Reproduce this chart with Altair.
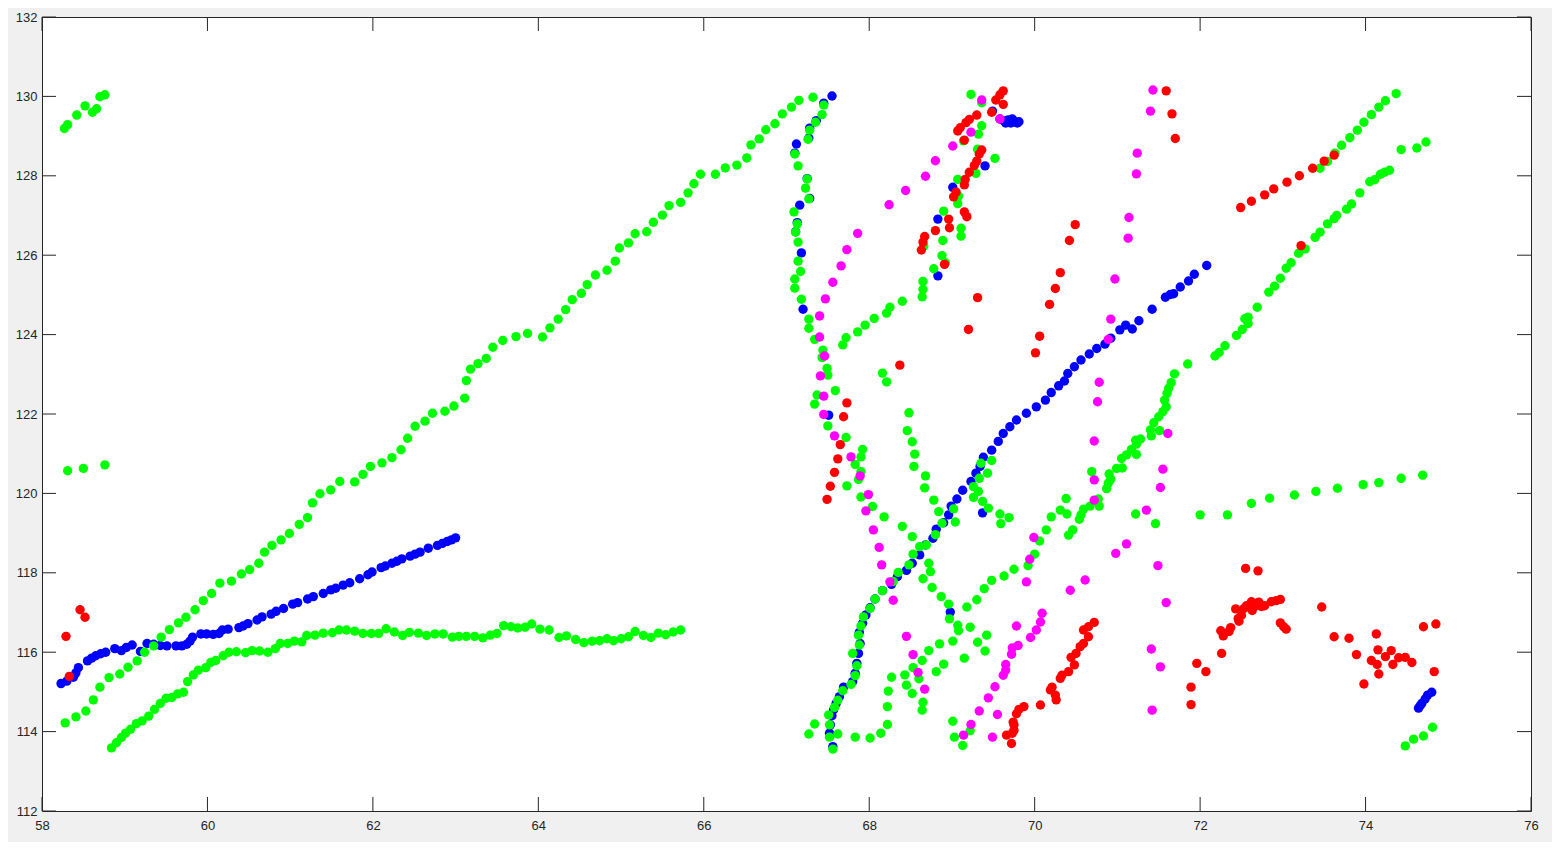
import altair as alt
import pandas as pd

# ---------------- data (x, y) ----------------
x_ticks = [58, 60, 62, 64, 66, 68, 70, 72, 74, 76]
y_ticks = [112, 114, 116, 118, 120, 122, 124, 126, 128, 130, 132]

blue_left = [(58.23,115.21),(58.30,115.27),(58.38,115.37),(58.41,115.48),(58.44,115.61),(58.55,115.78),(58.60,115.85),(58.65,115.91),(58.71,115.96),(58.77,116.00),(58.88,116.09),(58.96,116.04),(59.02,116.12),(59.09,116.18),(59.19,116.02),(59.27,116.22),(59.35,116.20),(59.43,116.17),(59.51,116.16),(59.62,116.16),(59.69,116.16),(59.75,116.20),(59.79,116.28),(59.82,116.38),(59.92,116.46),(59.99,116.46),(60.07,116.45),(60.14,116.47),(60.18,116.56),(60.25,116.58),(60.38,116.62),(60.43,116.66),(60.49,116.72),(60.60,116.81),(60.66,116.89),(60.77,116.96),(60.83,117.03),(60.92,117.10),(61.03,117.21),(61.09,117.25),(61.21,117.34),(61.28,117.40),(61.40,117.48),(61.49,117.57),(61.55,117.61),(61.64,117.69),(61.72,117.75),(61.84,117.85),(61.94,117.95),(61.99,118.02),(62.10,118.13),(62.15,118.17),(62.23,118.24),(62.29,118.29),(62.35,118.35),(62.45,118.42),(62.51,118.47),(62.57,118.52),(62.67,118.62),(62.78,118.69),(62.84,118.74),(62.90,118.79),(62.95,118.83),(63.00,118.88)]
blue_vertical = [(67.55,130.01),(67.45,129.83),(67.36,129.39),(67.28,129.20),(67.27,128.95),(67.12,128.80),(67.10,128.57),(67.25,127.93),(67.28,127.43),(67.16,127.26),(67.13,126.82),(67.11,126.59),(67.18,126.06),(67.20,124.64),(67.51,121.97)]
blue_diagonal = [(67.56,113.62),(67.52,113.96),(67.53,114.17),(67.55,114.40),(67.57,114.55),(67.60,114.71),(67.64,114.88),(67.69,115.12),(67.80,115.26),(67.83,115.47),(67.85,115.72),(67.87,115.97),(67.89,116.22),(67.88,116.50),(67.92,116.73),(67.96,116.94),(68.01,117.12),(68.07,117.34),(68.16,117.55),(68.27,117.71),(68.34,117.90),(68.45,118.06),(68.52,118.24),(68.61,118.45),(68.68,118.70),(68.77,118.87),(68.81,119.10),(68.90,119.26),(68.96,119.46),(68.99,119.68),(69.06,119.86),(69.13,120.08),(69.23,120.30),(69.29,120.51),(69.34,120.68),(69.38,120.91),(69.48,121.09),(69.56,121.31),(69.62,121.51),(69.70,121.68),(69.78,121.85),(69.90,122.02),(70.02,122.18),(70.13,122.35),(70.20,122.54),(70.29,122.71),(70.36,122.83),(70.40,123.02),(70.48,123.19),(70.56,123.36),(70.66,123.51),(70.75,123.65),(70.85,123.76),(70.92,123.91),(71.03,124.12),(71.10,124.24),(71.18,124.14),(71.26,124.35),(71.42,124.64),(71.58,124.94),(71.64,125.01),(71.68,125.03),(71.76,125.20),(71.86,125.35),(71.93,125.52),(72.08,125.74)]
blue_misc = [(69.49,129.63),(69.40,128.25),(69.01,127.71),(68.83,126.91),(68.83,125.48),(69.37,119.51),(68.98,117.01)]
blue_cluster = [(69.58,129.43),(69.63,129.38),(69.68,129.41),(69.71,129.33),(69.75,129.38),(69.79,129.33),(69.81,129.36),(69.65,129.33),(69.73,129.43)]
blue_right = [(74.64,114.59),(74.66,114.65),(74.68,114.71),(74.72,114.82),(74.75,114.92),(74.80,114.99)]

green_topleft = [(58.27,129.19),(58.31,129.29),(58.42,129.53),(58.52,129.76),(58.61,129.60),(58.66,129.69),(58.70,129.99),(58.76,130.04)]
green_mid_left = [(58.31,120.57),(58.50,120.63),(58.76,120.72)]
green_long = [(58.28,114.22),(58.41,114.37),(58.53,114.52),(58.62,114.80),(58.70,115.12),(58.81,115.36),(58.94,115.45),(59.04,115.62),(59.15,115.78),(59.24,116.00),(59.35,116.16),(59.44,116.38),(59.54,116.57),(59.65,116.74),(59.74,116.88),(59.85,117.07),(59.95,117.30),(60.05,117.48),(60.15,117.74),(60.29,117.79),(60.41,117.97),(60.51,118.08),(60.62,118.24),(60.69,118.52),(60.78,118.69),(60.89,118.83),(60.99,118.99),(61.11,119.22),(61.21,119.39),(61.27,119.76),(61.36,119.99),(61.49,120.09),(61.60,120.30),(61.78,120.29),(61.88,120.48),(61.97,120.68),(62.11,120.77),(62.23,120.90),(62.34,121.10),(62.42,121.39),(62.51,121.69),(62.63,121.82),(62.72,122.02),(62.87,122.07),(62.98,122.20),(63.11,122.40),(63.13,122.84),(63.18,123.13),(63.27,123.27),(63.37,123.40),(63.45,123.68),(63.57,123.85),(63.73,123.95),(63.87,124.03),(64.05,123.94),(64.14,124.17),(64.24,124.39),(64.33,124.63),(64.41,124.88),(64.52,125.04),(64.59,125.26),(64.69,125.50),(64.83,125.62),(64.93,125.85),(64.98,126.18),(65.09,126.31),(65.17,126.54),(65.31,126.59),(65.39,126.83),(65.50,127.01),(65.58,127.25),(65.72,127.33),(65.81,127.57),(65.88,127.80),(65.96,128.04),(66.14,128.04),(66.26,128.20),(66.40,128.27),(66.52,128.45),(66.57,128.78),(66.67,128.93),(66.75,129.16),(66.86,129.31),(66.95,129.56),(67.06,129.73),(67.15,129.90),(67.32,129.98)]
green_low = [(58.84,113.59),(58.90,113.72),(58.96,113.85),(59.01,113.96),(59.07,114.06),(59.14,114.20),(59.21,114.27),(59.29,114.39),(59.36,114.56),(59.43,114.71),(59.50,114.84),(59.57,114.86),(59.64,114.95),(59.71,114.99),(59.76,115.26),(59.83,115.43),(59.89,115.55),(59.98,115.61),(60.04,115.74),(60.10,115.79),(60.19,115.91),(60.26,116.00),(60.35,116.01),(60.46,115.99),(60.54,116.04),(60.63,116.03),(60.73,116.00),(60.82,116.09),(60.88,116.22),(60.97,116.22),(61.05,116.28),(61.14,116.26),(61.20,116.42),(61.30,116.43),(61.40,116.48),(61.51,116.49),(61.59,116.56),(61.68,116.56),(61.78,116.53),(61.88,116.47),(61.98,116.47),(62.07,116.47),(62.16,116.59),(62.26,116.51),(62.36,116.42),(62.44,116.50),(62.55,116.48),(62.65,116.42),(62.75,116.46),(62.85,116.46),(62.96,116.38),(63.04,116.40),(63.13,116.40),(63.23,116.40),(63.33,116.36),(63.42,116.43),(63.50,116.47),(63.58,116.67),(63.67,116.64),(63.75,116.61),(63.84,116.63),(63.92,116.71),(64.02,116.58),(64.13,116.56),(64.25,116.37),(64.34,116.41),(64.45,116.32),(64.55,116.24),(64.65,116.28),(64.74,116.29),(64.83,116.34),(64.91,116.29),(65.00,116.34),(65.09,116.39),(65.17,116.52),(65.27,116.42),(65.36,116.37),(65.45,116.48),(65.54,116.44),(65.63,116.51),(65.72,116.56)]
green_vertical = [(67.45,129.78),(67.43,129.54),(67.35,129.35),(67.28,129.15),(67.26,128.92),(67.10,128.55),(67.14,128.25),(67.25,127.92),(67.23,127.69),(67.27,127.42),(67.09,127.09),(67.13,126.79),(67.11,126.58),(67.14,126.33),(67.14,125.85),(67.17,125.59),(67.10,125.40),(67.10,125.17),(67.18,124.89),(67.27,124.39),(67.27,124.16),(67.34,123.88),(67.44,123.61),(67.43,123.42),(67.49,123.15),(67.50,122.98),(67.37,122.48),(67.34,122.25),(67.50,121.70),(67.72,121.41),(67.92,121.11),(67.90,120.92),(67.83,120.73),(67.90,120.55),(67.87,120.35),(67.73,120.19),(67.90,119.91),(68.04,119.67),(68.18,119.41),(68.40,119.17),(68.52,118.91),(68.61,118.66)]
green_tangle_top = [(69.23,130.05),(69.36,129.84),(69.36,129.26),(69.32,129.05),(69.14,128.88),(69.31,128.67),(69.52,128.44),(69.29,128.06),(69.07,127.91),(69.08,127.49),(69.07,127.30),(68.90,127.11),(69.11,126.68),(69.11,126.48),(68.89,126.37),(68.66,126.23),(68.88,125.99),(68.92,125.81),(68.78,125.66),(68.65,125.34),(68.65,125.14),(68.64,124.95),(68.40,124.84),(68.25,124.69),(68.21,124.54),(68.06,124.41),(67.95,124.24),(67.86,124.07),(67.72,123.92),(67.68,123.74),(68.16,123.03),(68.21,122.81),(67.59,122.59),(68.48,122.03)]
green_tangle_low = [(68.46,121.58),(68.52,121.30),(68.55,120.99),(68.54,120.68),(68.68,120.44),(68.67,120.14),(68.78,119.83),(68.84,119.54),(69.04,119.28),(69.02,119.61),(68.88,119.25),(68.80,118.96),(68.69,118.70),(68.53,118.47),(68.48,118.20),(68.35,118.01),(68.29,117.78),(68.16,117.55),(68.07,117.34),(68.01,117.10),(67.93,116.89),(67.90,116.66),(67.87,116.43),(67.88,116.18),(67.80,115.97),(67.85,115.66),(67.83,115.41),(67.78,115.19),(67.68,115.03),(67.62,114.79),(67.58,114.61),(67.51,114.42),(67.52,114.17),(67.52,113.86),(67.56,113.56),(67.34,114.19),(67.27,113.94),(67.62,113.94),(67.83,113.86),(68.01,113.84),(68.14,113.96),(68.22,114.18),(68.22,114.63),(68.23,115.02),(68.27,115.37),(68.43,115.43),(68.45,115.17),(68.52,114.96),(68.53,115.61),(68.60,115.33),(68.64,115.79),(68.65,114.74),(68.64,114.54),(68.72,116.04),(68.85,116.21),(68.90,115.70),(68.81,115.51),(69.01,116.28),(69.15,115.85),(69.31,116.25),(69.40,116.03),(69.42,116.43),(69.18,117.14),(69.30,117.32),(69.39,117.60),(69.48,117.81),(69.63,117.92),(69.75,118.09),(69.01,114.26),(69.03,113.86),(69.13,113.65),(69.22,114.02),(69.35,120.76),(69.43,120.51),(69.33,120.38),(69.26,120.17),(69.32,120.05),(69.26,119.90),(69.37,119.80),(69.44,119.63),(69.48,120.83),(69.58,119.48),(69.69,119.39),(69.59,119.24),(68.72,118.24),(68.74,118.03),(68.65,117.85),(68.76,117.63),(68.87,117.40),(68.96,117.21),(68.97,116.84),(69.07,116.68),(69.08,116.54),(69.22,116.63)]
green_center = [(71.85,123.26),(71.69,123.01),(71.65,122.79),(71.62,122.65),(71.60,122.52),(71.57,122.35),(71.59,122.18),(71.55,122.06),(71.50,121.93),(71.44,121.78),(71.40,121.60),(71.51,121.58),(71.41,121.45),(71.28,121.37),(71.22,121.34),(71.23,121.24),(71.23,120.98),(71.17,121.11),(71.11,120.97),(71.05,120.88),(70.99,120.63),(71.06,120.64),(70.90,120.49),(70.92,120.36),(70.89,120.26),(70.87,120.12),(70.69,120.55),(70.77,119.86),(70.78,119.68),(70.67,119.68),(70.59,119.60),(70.56,119.46),(70.54,119.35),(70.38,119.87),(70.31,119.58),(70.39,119.48),(70.20,119.41),(70.14,119.08),(70.06,118.80),(70.00,118.47),(69.92,118.18),(70.46,119.08),(70.41,118.95),(71.22,119.48),(71.46,119.24)]
green_row_120 = [(72.00,119.46),(72.33,119.46),(72.62,119.75),(72.84,119.88),(73.14,119.96),(73.40,120.05),(73.66,120.13),(73.97,120.22),(74.16,120.27),(74.43,120.38),(74.69,120.46)]
green_upper_right = [(73.45,128.19),(73.54,128.36),(73.63,128.57),(73.71,128.77),(73.81,128.96),(73.90,129.15),(73.98,129.35),(74.07,129.54),(74.16,129.73),(74.24,129.89),(74.37,130.07)]
green_lower_right = [(74.73,128.85),(74.62,128.70),(74.43,128.66),(74.29,128.14),(74.23,128.09),(74.18,128.04),(74.11,127.90),(74.05,127.85),(73.93,127.57),(73.83,127.29),(73.77,127.16),(73.65,127.00),(73.62,126.92),(73.54,126.79),(73.45,126.58),(73.39,126.45),(73.27,126.16),(73.19,126.05),(73.10,125.81),(73.04,125.67),(72.97,125.42),(72.90,125.22),(72.83,125.07),(72.69,124.69),(72.58,124.28),(72.58,124.44),(72.54,124.40),(72.51,124.13),(72.44,123.98),(72.30,123.72),(72.23,123.55),(72.18,123.46)]
green_bottom_right = [(74.48,113.64),(74.58,113.81),(74.70,113.89),(74.81,114.11)]

magenta_left = [(69.36,129.91),(69.58,129.43),(69.23,129.10),(69.01,128.75),(68.80,128.38),(68.68,127.99),(68.44,127.63),(68.24,127.27),(67.86,126.55),(67.73,126.14),(67.66,125.73),(67.56,125.32),(67.47,124.90),(67.40,124.47),(67.40,123.94),(67.46,123.46),(67.41,122.96),(67.45,122.45),(67.45,121.99),(67.58,121.45),(67.78,120.92),(67.89,120.44),(67.99,119.97),(67.96,119.56),(68.05,119.08),(68.12,118.64),(68.15,118.20),(68.25,117.77),(68.29,117.31),(68.45,116.40),(68.53,115.94),(68.59,115.49),(68.67,115.07)]
magenta_bottom = [(69.23,114.18),(69.14,113.91),(69.49,113.86),(69.33,114.52),(69.44,114.85),(69.55,114.43),(69.52,115.13),(69.62,115.42),(69.65,115.55),(69.65,115.69),(69.72,115.95),(69.73,116.11),(69.80,116.17),(69.78,116.66),(69.95,116.37),(70.02,116.56),(70.07,116.76),(70.09,116.98),(69.90,117.77),(69.94,118.34),(69.99,118.89),(70.43,117.56),(70.61,117.82)]
magenta_right = [(71.43,130.16),(71.40,129.63),(71.24,128.57),(71.23,128.05),(71.14,126.95),(71.13,126.43),(70.97,125.40),(70.92,124.39),(70.89,123.88),(70.78,122.80),(70.76,122.31),(70.72,121.32),(71.61,121.51),(71.55,120.61),(71.52,120.15),(70.72,120.34),(70.72,119.83),(71.35,119.58),(71.11,118.73),(70.98,118.49),(71.49,118.18),(71.59,117.25),(71.41,116.08),(71.52,115.63),(71.42,114.54)]

red_left = [(58.46,117.07),(58.52,116.88),(58.29,116.40),(58.33,115.39)]
red_top = [(69.62,130.14),(69.58,130.04),(69.53,129.91),(69.62,129.80),(69.48,129.60),(69.30,129.53),(69.21,129.42),(69.17,129.34),(69.10,129.21),(69.07,129.13),(69.15,128.90),(69.36,128.65),(69.33,128.55),(69.30,128.37),(69.27,128.26),(69.21,128.09),(69.16,127.91),(69.15,127.77),(69.05,127.59),(69.02,127.47),(69.15,127.09),(69.18,126.97),(68.96,126.91),(68.97,126.69),(68.80,126.62),(68.67,126.47),(68.65,126.33),(68.63,126.13),(68.91,125.77),(69.31,124.93),(69.20,124.13),(68.37,123.23),(67.73,122.28),(67.69,121.93),(67.65,121.23),(67.62,120.87),(67.58,120.53),(67.53,120.18),(67.49,119.85)]
red_bottom = [(69.78,114.45),(69.74,114.24),(69.75,114.03),(69.66,113.91),(69.72,113.70),(69.73,113.96),(69.75,114.17),(69.81,114.56),(69.87,114.63),(70.07,114.67),(70.19,115.05),(70.25,114.92),(70.26,114.80),(70.21,115.12),(70.31,115.34),(70.33,115.42),(70.41,115.51),(70.48,115.68),(70.44,115.87),(70.50,115.97),(70.55,116.14),(70.59,116.22),(70.65,116.39),(70.59,116.56),(70.65,116.64),(70.72,116.75)]
red_mid = [(71.59,130.14),(71.66,129.56),(71.70,128.94),(70.49,126.77),(70.42,126.37),(70.31,125.56),(70.25,125.16),(70.18,124.76),(70.06,123.96),(70.01,123.54)]
red_upper_right = [(72.49,127.20),(72.62,127.36),(72.78,127.52),(72.89,127.67),(73.05,127.84),(73.20,128.00),(73.36,128.19),(73.50,128.37),(73.62,128.52),(73.22,126.24)]
red_lower_right = [(71.96,115.72),(72.07,115.51),(71.89,115.12),(71.89,114.68),(72.26,115.97),(72.25,116.54),(72.28,116.41),(72.35,116.52),(72.37,116.62),(72.43,117.09),(72.46,116.85),(72.47,116.78),(72.50,116.93),(72.53,117.10),(72.56,117.17),(72.62,117.27),(72.63,117.05),(72.66,117.15),(72.71,117.26),(72.74,117.15),(72.78,117.17),(72.86,117.27),(72.92,117.30),(72.97,117.33),(72.55,118.11),(72.70,118.05),(72.97,116.74),(73.01,116.64),(73.04,116.58),(73.47,117.14),(73.62,116.39),(73.80,116.35),(73.89,115.94),(73.98,115.20),(74.07,115.79),(74.13,116.46),(74.15,116.06),(74.14,115.69),(74.16,115.45),(74.24,115.89),(74.31,116.04),(74.33,115.69),(74.40,115.86),(74.48,115.87),(74.56,115.74),(74.70,116.64),(74.85,116.71),(74.83,115.51)]

# ---------------- table ----------------
groups = [
    ("blue", blue_left + blue_vertical + blue_diagonal + blue_misc + blue_cluster + blue_right),
    ("green", green_topleft + green_mid_left + green_long + green_low + green_vertical
              + green_tangle_top + green_tangle_low + green_center + green_row_120
              + green_upper_right + green_lower_right + green_bottom_right),
    ("magenta", magenta_left + magenta_bottom + magenta_right),
    ("red", red_left + red_top + red_bottom + red_mid + red_upper_right + red_lower_right),
]
rows = []
for name, pts in groups:
    for px, py in pts:
        rows.append({"x": px, "y": py, "c": name})
df = pd.DataFrame(rows)

W, H = 1489, 794
TICK = 14
AX = "#262626"
FONT = "Liberation Sans"

xs = alt.Scale(domain=[58, 76], nice=False, zero=False)
ys = alt.Scale(domain=[112, 132], nice=False, zero=False)

axis_common = dict(grid=False, domain=False, ticks=False, title=None,
                   labelFont=FONT, labelFontSize=13, labelColor=AX,
                   labelFlush=False, labelOverlap=False, format="d")
x_axis = alt.Axis(values=x_ticks, labelPadding=8, **axis_common)
y_axis = alt.Axis(values=y_ticks, labelPadding=5, **axis_common)

points = alt.Chart(df).mark_circle(size=88, opacity=1, strokeWidth=0).encode(
    x=alt.X("x:Q", scale=xs, axis=x_axis),
    y=alt.Y("y:Q", scale=ys, axis=y_axis),
    color=alt.Color("c:N", legend=None,
                    scale=alt.Scale(domain=["blue", "green", "magenta", "red"],
                                    range=["#0000ff", "#00ff00", "#ff00ff", "#ff0000"])),
)

xt = pd.DataFrame({"x": x_ticks})
yt = pd.DataFrame({"y": y_ticks})

bottom_ticks = alt.Chart(xt).mark_rule(color=AX, strokeWidth=1).encode(
    x=alt.X("x:Q", scale=xs, axis=x_axis), y=alt.value(H), y2=alt.value(H - TICK))
top_ticks = alt.Chart(xt).mark_rule(color=AX, strokeWidth=1).encode(
    x=alt.X("x:Q", scale=xs, axis=x_axis), y=alt.value(0), y2=alt.value(TICK))
left_ticks = alt.Chart(yt).mark_rule(color=AX, strokeWidth=1).encode(
    y=alt.Y("y:Q", scale=ys, axis=y_axis), x=alt.value(0), x2=alt.value(TICK))
right_ticks = alt.Chart(yt).mark_rule(color=AX, strokeWidth=1).encode(
    y=alt.Y("y:Q", scale=ys, axis=y_axis), x=alt.value(W), x2=alt.value(W - TICK))

chart = alt.layer(points, bottom_ticks, top_ticks, left_ticks, right_ticks).properties(
    width=W, height=H,
    autosize=alt.AutoSizeParams(type="none"),
    padding={"left": 34, "top": 9, "right": 21, "bottom": 31},
    background="#f0f0f0",
).configure_view(stroke=AX, strokeWidth=1, fill="white")

chart.save("out.html", embed_options={"renderer": "svg", "actions": False})
